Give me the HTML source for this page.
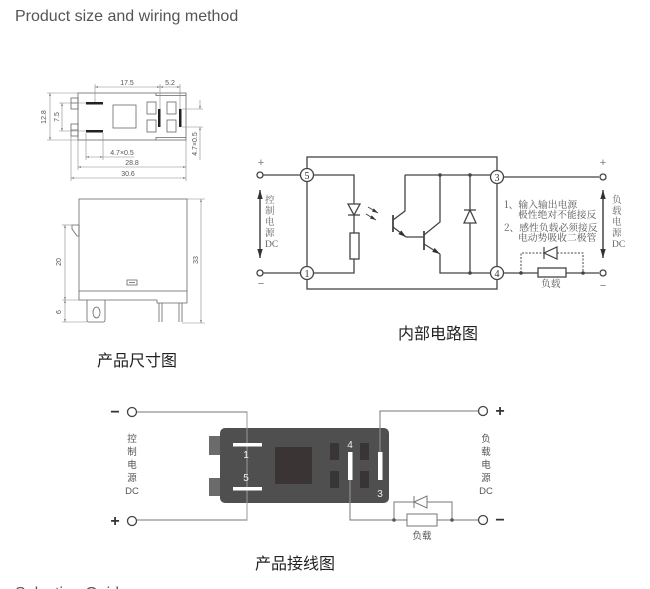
<!DOCTYPE html>
<html><head><meta charset="utf-8"><style>
html,body{margin:0;padding:0;background:#fff;}
body{width:650px;height:589px;overflow:hidden;position:relative;}
svg{position:absolute;left:0;top:0;}
</style></head><body>
<svg width="650" height="589" viewBox="0 0 650 589" xmlns="http://www.w3.org/2000/svg">
<defs>
<marker id="da" viewBox="0 0 10 10" refX="10" refY="5" markerWidth="5" markerHeight="5" orient="auto-start-reverse"><path d="M0,2 L10,5 L0,8 z" fill="#777"/></marker>
<marker id="ca" viewBox="0 0 10 10" refX="10" refY="5" markerWidth="6" markerHeight="8" orient="auto-start-reverse"><path d="M0,2 L10,5 L0,8 z" fill="#333"/></marker>
</defs>

<!-- Title -->
<text x="15" y="21" font-family="Liberation Sans, sans-serif" font-size="16" fill="#555">Product size and wiring method</text>

<!-- ===== Top view drawing ===== -->
<g stroke="#666" stroke-width="0.8" fill="none">
  <rect x="78" y="93" width="108" height="47"/>
  <polyline points="156,93 156,95.5 186,95.5"/>
  <polyline points="156,140 156,137.5 186,137.5"/>
  <rect x="71" y="98" width="7" height="11"/>
  <line x1="71" y1="103" x2="78" y2="103"/>
  <rect x="71" y="124" width="7" height="12"/>
  <line x1="71" y1="130" x2="78" y2="130"/>
  <rect x="113" y="105" width="23" height="23"/>
  <rect x="147" y="102" width="9" height="12"/>
  <rect x="147" y="120" width="9" height="12"/>
  <rect x="167" y="102" width="9" height="12"/>
  <rect x="167" y="120" width="9" height="12"/>
</g>
<g fill="#222">
  <rect x="86" y="102" width="17" height="2.5"/>
  <rect x="86" y="130" width="17" height="2.5"/>
  <rect x="158" y="109" width="2.5" height="18"/>
  <rect x="179" y="109" width="2.5" height="18"/>
</g>
<g stroke="#888" stroke-width="0.6" fill="none">
  <!-- 17.5 / 5.2 -->
  <line x1="95" y1="84" x2="95" y2="102"/>
  <line x1="160" y1="84" x2="160" y2="109"/>
  <line x1="180" y1="84" x2="180" y2="109"/>
  <line x1="95" y1="87" x2="160" y2="87" marker-start="url(#da)" marker-end="url(#da)"/>
  <line x1="160" y1="87" x2="180" y2="87" marker-start="url(#da)" marker-end="url(#da)"/>
  <!-- 12.8 -->
  <line x1="47" y1="93" x2="78" y2="93"/>
  <line x1="47" y1="140" x2="78" y2="140"/>
  <line x1="50" y1="93" x2="50" y2="140" marker-start="url(#da)" marker-end="url(#da)"/>
  <!-- 7.5 -->
  <line x1="59" y1="103" x2="86" y2="103"/>
  <line x1="59" y1="131" x2="86" y2="131"/>
  <line x1="62" y1="103" x2="62" y2="131" marker-start="url(#da)" marker-end="url(#da)"/>
  <!-- right 4.7x0.5 -->
  <line x1="182" y1="109" x2="203" y2="109"/>
  <line x1="182" y1="127" x2="203" y2="127"/>
  <line x1="200" y1="100" x2="200" y2="109" marker-end="url(#da)"/>
  <line x1="200" y1="160" x2="200" y2="127" marker-end="url(#da)"/>
  <!-- bottom 4.7x0.5 -->
  <line x1="86" y1="133" x2="86" y2="160"/>
  <line x1="103" y1="133" x2="103" y2="160"/>
  <line x1="86" y1="157" x2="103" y2="157" marker-start="url(#da)" marker-end="url(#da)"/>
  <line x1="103" y1="157" x2="134" y2="157"/>
  <!-- 28.8 -->
  <line x1="78" y1="140" x2="78" y2="170"/>
  <line x1="186" y1="140" x2="186" y2="181"/>
  <line x1="78" y1="167" x2="186" y2="167" marker-start="url(#da)" marker-end="url(#da)"/>
  <!-- 30.6 -->
  <line x1="71" y1="136" x2="71" y2="181"/>
  <line x1="71" y1="178" x2="186" y2="178" marker-start="url(#da)" marker-end="url(#da)"/>
</g>
<g font-family="Liberation Sans, sans-serif" font-size="7" fill="#555">
  <text x="127" y="85" text-anchor="middle">17.5</text>
  <text x="170" y="85" text-anchor="middle">5.2</text>
  <text x="122" y="155" text-anchor="middle">4.7×0.5</text>
  <text x="132" y="165" text-anchor="middle">28.8</text>
  <text x="128" y="176" text-anchor="middle">30.6</text>
  <text transform="translate(46,117) rotate(-90)" text-anchor="middle">12.8</text>
  <text transform="translate(59,117) rotate(-90)" text-anchor="middle">7.5</text>
  <text transform="translate(197,144) rotate(-90)" text-anchor="middle">4.7×0.5</text>
</g>

<!-- ===== Side view ===== -->
<g stroke="#666" stroke-width="0.8" fill="none">
  <rect x="79" y="199" width="108" height="92"/>
  <polyline points="79,291 79,300 157,300 157,303 187,303 187,291"/>
  <polygon points="79,225 72,225 72,229 77,236 79,236"/>
  <path d="M87,300 L87,320 Q87,322 89,322 L103,322 Q105,322 105,320 L105,300"/>
  <ellipse cx="96.5" cy="312.5" rx="3.5" ry="5.5"/>
  <line x1="159" y1="303" x2="159" y2="322"/>
  <line x1="162" y1="303" x2="162" y2="322"/>
  <line x1="179" y1="303" x2="179" y2="322"/>
  <line x1="182" y1="303" x2="182" y2="322"/>
  <rect x="127" y="280" width="10" height="5"/>
  <line x1="129" y1="282.5" x2="135" y2="282.5"/>
</g>
<g stroke="#888" stroke-width="0.6" fill="none">
  <line x1="62" y1="225" x2="72" y2="225"/>
  <line x1="62" y1="300" x2="87" y2="300"/>
  <line x1="62" y1="322" x2="87" y2="322"/>
  <line x1="65" y1="225" x2="65" y2="300" marker-start="url(#da)" marker-end="url(#da)"/>
  <line x1="65" y1="300" x2="65" y2="322" marker-start="url(#da)" marker-end="url(#da)"/>
  <line x1="187" y1="199" x2="205" y2="199"/>
  <line x1="182" y1="323" x2="205" y2="323"/>
  <line x1="201" y1="199" x2="201" y2="323" marker-start="url(#da)" marker-end="url(#da)"/>
</g>
<g font-family="Liberation Sans, sans-serif" font-size="7" fill="#555">
  <text transform="translate(61,262) rotate(-90)" text-anchor="middle">20</text>
  <text transform="translate(61,312) rotate(-90)" text-anchor="middle">6</text>
  <text transform="translate(198,260) rotate(-90)" text-anchor="middle">33</text>
</g>
<text x="97" y="366" font-family="Liberation Sans, 'Noto Sans CJK SC', sans-serif" font-size="16" fill="#222">产品尺寸图</text>

<!-- ===== Internal circuit ===== -->
<g stroke="#444" stroke-width="1.3" fill="none">
  <rect x="307" y="157" width="190" height="132"/>
  <line x1="263" y1="175" x2="301" y2="175"/>
  <line x1="263" y1="273" x2="301" y2="273"/>
  <polyline points="313,175 354,175 354,204"/>
  <polyline points="354,215 354,233"/>
  <rect x="350" y="233" width="9" height="26"/>
  <polyline points="354,259 354,273 313,273"/>
  <!-- LED -->
  <polygon points="348,204 360,204 354,215"/>
  <line x1="348" y1="215" x2="360" y2="215"/>
  <!-- light arrows -->
  <line x1="368" y1="207" x2="378" y2="213" stroke-width="1" marker-end="url(#ca)"/>
  <line x1="366" y1="214" x2="376" y2="220" stroke-width="1" marker-end="url(#ca)"/>
  <!-- transistor 1 -->
  <line x1="393" y1="215" x2="393" y2="232" stroke-width="1.8"/>
  <polyline points="405,175 405,211 393,220"/>
  <line x1="393" y1="227" x2="406" y2="237" marker-end="url(#ca)"/>
  <line x1="406" y1="237" x2="424" y2="237"/>
  <!-- transistor 2 -->
  <line x1="424" y1="231" x2="424" y2="250" stroke-width="1.8"/>
  <polyline points="424,235 440,222 440,175"/>
  <line x1="424" y1="244" x2="440" y2="254" marker-end="url(#ca)"/>
  <polyline points="440,254 440,273 491,273"/>
  <line x1="405" y1="175" x2="491" y2="175"/>
  <!-- diode -->
  <line x1="470" y1="175" x2="470" y2="273"/>
  <polygon points="470,210 464,223 476,223" fill="#fff"/>
  <line x1="464" y1="210" x2="476" y2="210"/>
  <!-- outputs -->
  <line x1="503" y1="177" x2="599" y2="177"/>
  <line x1="503" y1="273" x2="521" y2="273"/>
  <line x1="521" y1="273" x2="538" y2="273"/>
  <rect x="538" y="268" width="28" height="9"/>
  <line x1="566" y1="273" x2="599" y2="273"/>
  <!-- arrows -->
  <line x1="260" y1="190" x2="260" y2="258" stroke-width="1.5" marker-start="url(#ca)" marker-end="url(#ca)"/>
  <line x1="603" y1="190" x2="603" y2="258" stroke-width="1.5" marker-start="url(#ca)" marker-end="url(#ca)"/>
</g>
<g stroke="#444" stroke-width="1" fill="none" stroke-dasharray="2,1.5">
  <polyline points="521,273 521,253 544,253"/>
  <polyline points="557,253 583,253 583,273"/>
</g>
<g stroke="#444" stroke-width="1.2" fill="#fff">
  <polygon points="544,253 557,247 557,259"/>
  <line x1="544" y1="247" x2="544" y2="259"/>
</g>
<g fill="#444">
  <circle cx="440" cy="175" r="1.8"/>
  <circle cx="470" cy="175" r="1.8"/>
  <circle cx="470" cy="273" r="1.8"/>
  <circle cx="521" cy="273" r="1.8"/>
  <circle cx="583" cy="273" r="1.8"/>
</g>
<g stroke="#444" stroke-width="1.3" fill="#fff">
  <circle cx="260" cy="175" r="3"/>
  <circle cx="260" cy="273" r="3"/>
  <circle cx="603" cy="177" r="3"/>
  <circle cx="603" cy="273" r="3"/>
  <circle cx="307" cy="175" r="6.5"/>
  <circle cx="307" cy="273" r="6.5"/>
  <circle cx="497" cy="177" r="6.5"/>
  <circle cx="497" cy="273" r="6.5"/>
</g>
<g font-family="Liberation Serif, serif" font-size="10" fill="#333" text-anchor="middle">
  <text x="307" y="179">5</text>
  <text x="307" y="277">1</text>
  <text x="497" y="181">3</text>
  <text x="497" y="277">4</text>
</g>
<g font-family="Liberation Sans, sans-serif" font-size="11" fill="#777" text-anchor="middle">
  <text x="261" y="166">+</text>
  <text x="261" y="287">−</text>
  <text x="603" y="166">+</text>
  <text x="603" y="289">−</text>
</g>
<g font-family="'Noto Serif CJK SC', serif" font-size="9.5" fill="#666">
  <text x="265" y="203">控</text>
  <text x="265" y="214">制</text>
  <text x="265" y="225">电</text>
  <text x="265" y="236">源</text>
  <text x="265" y="247" font-family="Liberation Serif, serif">DC</text>
  <text x="612" y="203">负</text>
  <text x="612" y="214">载</text>
  <text x="612" y="225">电</text>
  <text x="612" y="236">源</text>
  <text x="612" y="247" font-family="Liberation Serif, serif">DC</text>
</g>
<g font-family="'Noto Serif CJK SC', serif" font-size="9.8" fill="#555">
  <text x="504" y="208">1、输入输出电源</text>
  <text x="518" y="218">极性绝对不能接反</text>
  <text x="504" y="231">2、感性负载必须接反</text>
  <text x="518" y="241">电动势吸收二极管</text>
  <text x="541" y="287">负载</text>
</g>
<text x="398" y="339" font-family="Liberation Sans, 'Noto Sans CJK SC', sans-serif" font-size="16" fill="#222">内部电路图</text>

<!-- ===== Wiring diagram ===== -->
<g stroke="#777" stroke-width="1" fill="none">
  <polyline points="137,412 247,412 247,520 137,520"/>
  <polyline points="380,452 380,411 478,411"/>
  <polyline points="350,480 350,520 407,520"/>
  <rect x="407" y="514" width="30" height="12" fill="#fff"/>
  <polyline points="437,520 478,520"/>
  <polyline points="394,520 394,502 414,502"/>
  <polyline points="427,502 452,502 452,520"/>
  <polygon points="414,502 427,496 427,508" fill="#fff"/>
  <line x1="414" y1="496" x2="414" y2="508"/>
</g>
<rect x="209" y="436" width="12" height="19" fill="#6b6b6b"/>
<rect x="209" y="478" width="12" height="18" fill="#6b6b6b"/>
<rect x="220" y="428" width="169" height="75" rx="5" fill="#4f4f4f"/>
<rect x="275" y="447" width="37" height="37" fill="#3a3434"/>
<rect x="330" y="443" width="9" height="17" fill="#393535"/>
<rect x="330" y="471" width="9" height="17" fill="#393535"/>
<rect x="360" y="443" width="9" height="17" fill="#393535"/>
<rect x="360" y="471" width="9" height="17" fill="#393535"/>
<line x1="247" y1="412" x2="247" y2="520" stroke="#999" stroke-width="1"/>
<line x1="380" y1="428" x2="380" y2="452" stroke="#999" stroke-width="1"/>
<line x1="350" y1="480" x2="350" y2="503" stroke="#999" stroke-width="1"/>
<rect x="233" y="443" width="29" height="3.5" fill="#fff"/>
<rect x="233" y="487" width="29" height="3.5" fill="#fff"/>
<rect x="348" y="452" width="4.5" height="28" fill="#fff"/>
<rect x="378" y="452" width="4.5" height="28" fill="#fff"/>
<g font-family="Liberation Sans, sans-serif" font-size="10" fill="#eee" text-anchor="middle">
  <text x="246" y="458">1</text>
  <text x="246" y="481">5</text>
  <text x="350" y="448">4</text>
  <text x="380" y="497">3</text>
</g>
<g fill="#555">
  <circle cx="394" cy="520" r="1.8"/>
  <circle cx="452" cy="520" r="1.8"/>
</g>
<g stroke="#444" stroke-width="1.3" fill="#fff">
  <circle cx="132" cy="412" r="4.5"/>
  <circle cx="132" cy="521" r="4.5"/>
  <circle cx="483" cy="411" r="4.5"/>
  <circle cx="483" cy="520" r="4.5"/>
</g>
<g font-family="Liberation Sans, sans-serif" font-size="16" font-weight="bold" fill="#333" text-anchor="middle">
  <text x="115" y="417">−</text>
  <text x="115" y="526">+</text>
  <text x="500" y="416">+</text>
  <text x="500" y="525">−</text>
</g>
<g font-family="Liberation Sans, 'Noto Sans CJK SC', sans-serif" font-size="9.5" fill="#555" text-anchor="middle">
  <text x="132" y="442">控</text>
  <text x="132" y="455">制</text>
  <text x="132" y="468">电</text>
  <text x="132" y="481">源</text>
  <text x="132" y="494">DC</text>
  <text x="486" y="442">负</text>
  <text x="486" y="455">载</text>
  <text x="486" y="468">电</text>
  <text x="486" y="481">源</text>
  <text x="486" y="494">DC</text>
  <text x="422" y="539">负载</text>
</g>
<text x="255" y="569" font-family="Liberation Sans, 'Noto Sans CJK SC', sans-serif" font-size="16" fill="#222">产品接线图</text>

<text x="15" y="598" font-family="Liberation Sans, sans-serif" font-size="16" fill="#555">Selection Guide</text>
</svg>
</body></html>
